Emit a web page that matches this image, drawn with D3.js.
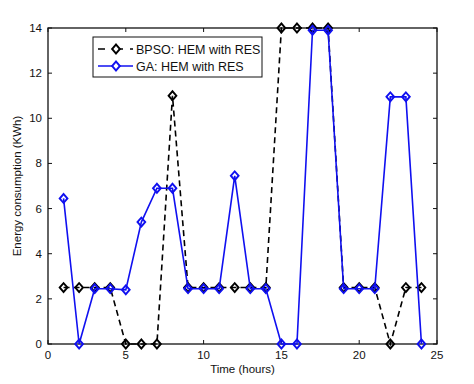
<!DOCTYPE html>
<html>
<head>
<meta charset="utf-8">
<script src="https://cdn.jsdelivr.net/npm/d3@7"></script>
<style>
  body { margin: 0; background: white; }
  text { font-family: "Liberation Sans", Arial, sans-serif; }
</style>
</head>
<body>
<svg id="chart" width="474" height="384"></svg>
<script>
  let hours = d3.range(1, 25);
  let bpso = [2.5, 2.5, 2.5, 2.5, 0, 0, 0, 11, 2.5, 2.5, 2.5, 2.5, 2.5, 2.5, 14, 14, 14, 14, 2.5, 2.5, 2.5, 0, 2.5, 2.5];
  let ga = [6.45, 0, 2.45, 2.45, 2.4, 5.4, 6.9, 6.9, 2.45, 2.45, 2.45, 7.45, 2.45, 2.45, 0, 0, 13.9, 13.9, 2.45, 2.45, 2.45, 10.95, 10.95, 0];
  let xTicks = [0, 5, 10, 15, 20, 25];
  let yTicks = [0, 2, 4, 6, 8, 10, 12, 14];
  let seriesNames = ["BPSO: HEM with RES", "GA: HEM with RES"];

  let svg = d3.select("#chart");
  let margin = {top: 28, right: 37, bottom: 40, left: 48};
  let width = 474, height = 384;

  let x = d3.scaleLinear().domain([0, 25]).range([margin.left, width - margin.right]);
  let y = d3.scaleLinear().domain([0, 14]).range([height - margin.bottom, margin.top]);

  // box
  svg.append("rect")
    .attr("x", x(0)).attr("y", y(14))
    .attr("width", x(25) - x(0)).attr("height", y(0) - y(14))
    .attr("fill", "white").attr("stroke", "#111").attr("stroke-width", 1.3);

  let tick = 4;
  xTicks.forEach(function(t){
    svg.append("line").attr("x1", x(t)).attr("x2", x(t)).attr("y1", y(0)).attr("y2", y(0) - tick).attr("stroke", "#111");
    svg.append("line").attr("x1", x(t)).attr("x2", x(t)).attr("y1", y(14)).attr("y2", y(14) + tick).attr("stroke", "#111");
    svg.append("text").attr("x", x(t)).attr("y", y(0) + 15)
      .attr("text-anchor", "middle").style("font-size", "11.5px").attr("fill", "#111").text(t);
  });
  yTicks.forEach(function(t){
    svg.append("line").attr("x1", x(0)).attr("x2", x(0) + tick).attr("y1", y(t)).attr("y2", y(t)).attr("stroke", "#111");
    svg.append("line").attr("x1", x(25)).attr("x2", x(25) - tick).attr("y1", y(t)).attr("y2", y(t)).attr("stroke", "#111");
    svg.append("text").attr("x", x(0) - 6).attr("y", y(t) + 4)
      .attr("text-anchor", "end").style("font-size", "11.5px").attr("fill", "#111").text(t);
  });

  svg.append("text").attr("x", (x(0) + x(25)) / 2).attr("y", 373)
    .attr("text-anchor", "middle").style("font-size", "11.5px").attr("fill", "#111").text("Time (hours)");
  svg.append("text")
    .attr("transform", "translate(21," + ((y(0) + y(14)) / 2) + ") rotate(-90)")
    .attr("text-anchor", "middle").style("font-size", "11.5px").attr("fill", "#111").text("Energy consumption (KWh)");

  let line = d3.line().x(function(d){ return x(d[0]); }).y(function(d){ return y(d[1]); });
  let diamond = d3.symbol().type(d3.symbolSquare).size(30);
  function marker(px, py) { return "translate(" + px + "," + py + ") scale(1,1.15) rotate(45)"; }

  function drawSeries(vals, color, dash) {
    let pts = hours.map(function(h, i){ return [h, vals[i]]; });
    svg.append("path").datum(pts).attr("d", line)
      .attr("fill", "none").attr("stroke", color).attr("stroke-width", 1.6)
      .attr("stroke-dasharray", dash);
    svg.selectAll(null).data(pts).enter().append("path")
      .attr("d", diamond)
      .attr("transform", function(d){ return marker(x(d[0]), y(d[1])); })
      .attr("fill", "none").attr("stroke", color).attr("stroke-width", 1.8);
  }
  drawSeries(bpso, "#000", "6,4");
  drawSeries(ga, "#1010f0", null);

  // legend
  let lg = svg.append("g");
  lg.append("rect").attr("x", 93).attr("y", 37).attr("width", 169).attr("height", 40)
    .attr("fill", "white").attr("stroke", "#111").attr("stroke-width", 1);
  let colors = ["#000", "#1010f0"];
  let dashes = ["6,4", null];
  seriesNames.forEach(function(name, i){
    let ly = 49 + i * 17;
    lg.append("line").attr("x1", 98).attr("x2", 133).attr("y1", ly).attr("y2", ly)
      .attr("stroke", colors[i]).attr("stroke-width", 1.6).attr("stroke-dasharray", i == 0 ? "7,11,7" : null);
    lg.append("path").attr("d", diamond)
      .attr("transform", marker(116, ly))
      .attr("fill", "white").attr("stroke", colors[i]).attr("stroke-width", 1.8);
    lg.append("text").attr("x", 136).attr("y", ly + 4.5).style("font-size", "12.5px").attr("fill", "#111").text(name);
  });
</script>
</body>
</html>
